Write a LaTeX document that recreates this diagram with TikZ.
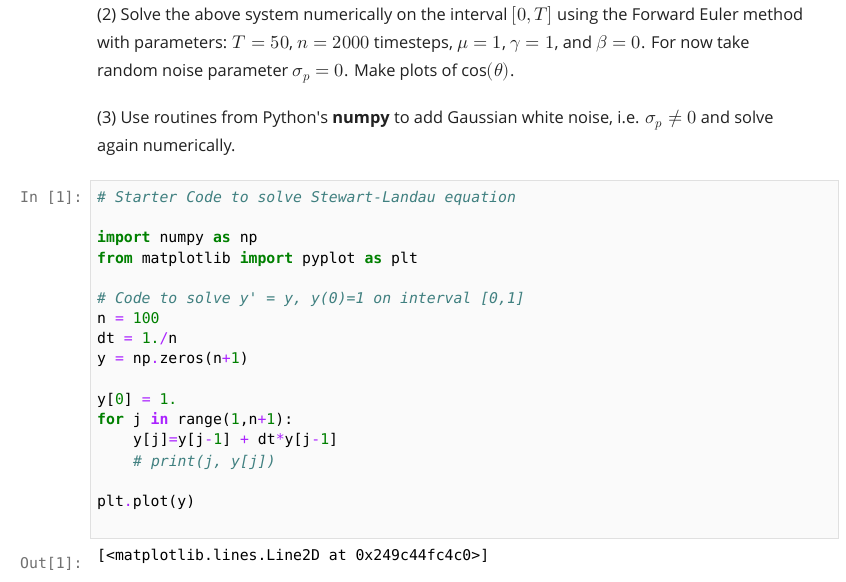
\documentclass[tikz,border=0pt]{standalone}
\usepackage{fontspec}
\setmainfont{Open Sans}
\setmonofont{DejaVu Sans Mono}
\usepackage{unicode-math}
\setmathfont[Scale=1.12]{Latin Modern Math}
\definecolor{cm}{HTML}{408080}
\definecolor{kw}{HTML}{008000}
\definecolor{op}{HTML}{AA22FF}
\definecolor{pr}{HTML}{707070}
\definecolor{tx}{HTML}{212121}
\newcommand{\K}[1]{\textcolor{kw}{\bfseries #1}}
\newcommand{\N}[1]{\textcolor{kw}{#1}}
\newcommand{\Op}[1]{\textcolor{op}{#1}}
\newcommand{\C}[1]{\textcolor{cm}{\itshape #1}}
\begin{document}
\begin{tikzpicture}[x=1pt,y=-1pt,
  md/.style={anchor=base west,inner sep=0,font=\fontsize{16.4}{20}\selectfont,text=tx},
  cd/.style={anchor=base west,inner sep=0,font=\ttfamily\fontsize{14.8}{18}\selectfont,text=black},
  pm/.style={anchor=base west,inner sep=0,font=\ttfamily\fontsize{14.8}{18}\selectfont,text=pr}]
\useasboundingbox[fill=white] (0,0) rectangle (846,581);
\node[md] (t1) at (97,20) {(2) Solve the above system numerically on the interval $[0,T]$ using the Forward Euler method};
\node[md] (t2) at (97,48) {with parameters: $T=50$, $n=2000$ timesteps, $\mu=1$, $\gamma=1$, and $\beta=0$. For now take};
\node[md] (t3) at (97,76) {random noise parameter $\sigma_p=0$. Make plots of $\cos(\theta)$.};
\node[md] (t4) at (97,123) {(3) Use routines from Python\textquotesingle s $\mathbf{numpy}$ to add Gaussian white noise, i.e. $\sigma_p\neq0$ and solve};
\node[md] (t5) at (97,151) {again numerically.};
\draw[draw=black!12,fill=black!2] (90,180) rectangle (838,538);
\node[pm] (in) at (20,202) {In [1]:};
\node[cd] (c1) at (97,202) {\C{\# Starter Code to solve Stewart-Landau equation}};
\node[cd] (c2) at (97,242) {\K{import} numpy \K{as} np};
\node[cd] (c3) at (97,263) {\K{from} matplotlib \K{import} pyplot \K{as} plt};
\node[cd] (c4) at (97,303) {\C{\# Code to solve y' = y, y(0)=1 on interval [0,1]}};
\node[cd] (c5) at (97,323) {n \Op{=} \N{100}};
\node[cd] (c6) at (97,343) {dt \Op{=} \N{1.}\Op{/}n};
\node[cd] (c7) at (97,363) {y \Op{=} np\Op{.}zeros(n\Op{+}\N{1})};
\node[cd] (c8) at (97,404) {y[\N{0}] \Op{=} \N{1.}};
\node[cd] (c9) at (97,424) {\K{for} j \Op{\bfseries in} range(\N{1},n\Op{+}\N{1}):};
\node[cd] (c10) at (133,444) {y[j]\Op{=}y[j\Op{-}\N{1}] \Op{+} dt\Op{*}y[j\Op{-}\N{1}]};
\node[cd] (c11) at (133,466) {\C{\# print(j, y[j])}};
\node[cd] (c12) at (97,506) {plt\Op{.}plot(y)};
\node[pm] (out) at (20,568) {Out[1]:};
\node[cd] (o1) at (97,560) {[<matplotlib.lines.Line2D at 0x249c44fc4c0>]};
\end{tikzpicture}
\end{document}
